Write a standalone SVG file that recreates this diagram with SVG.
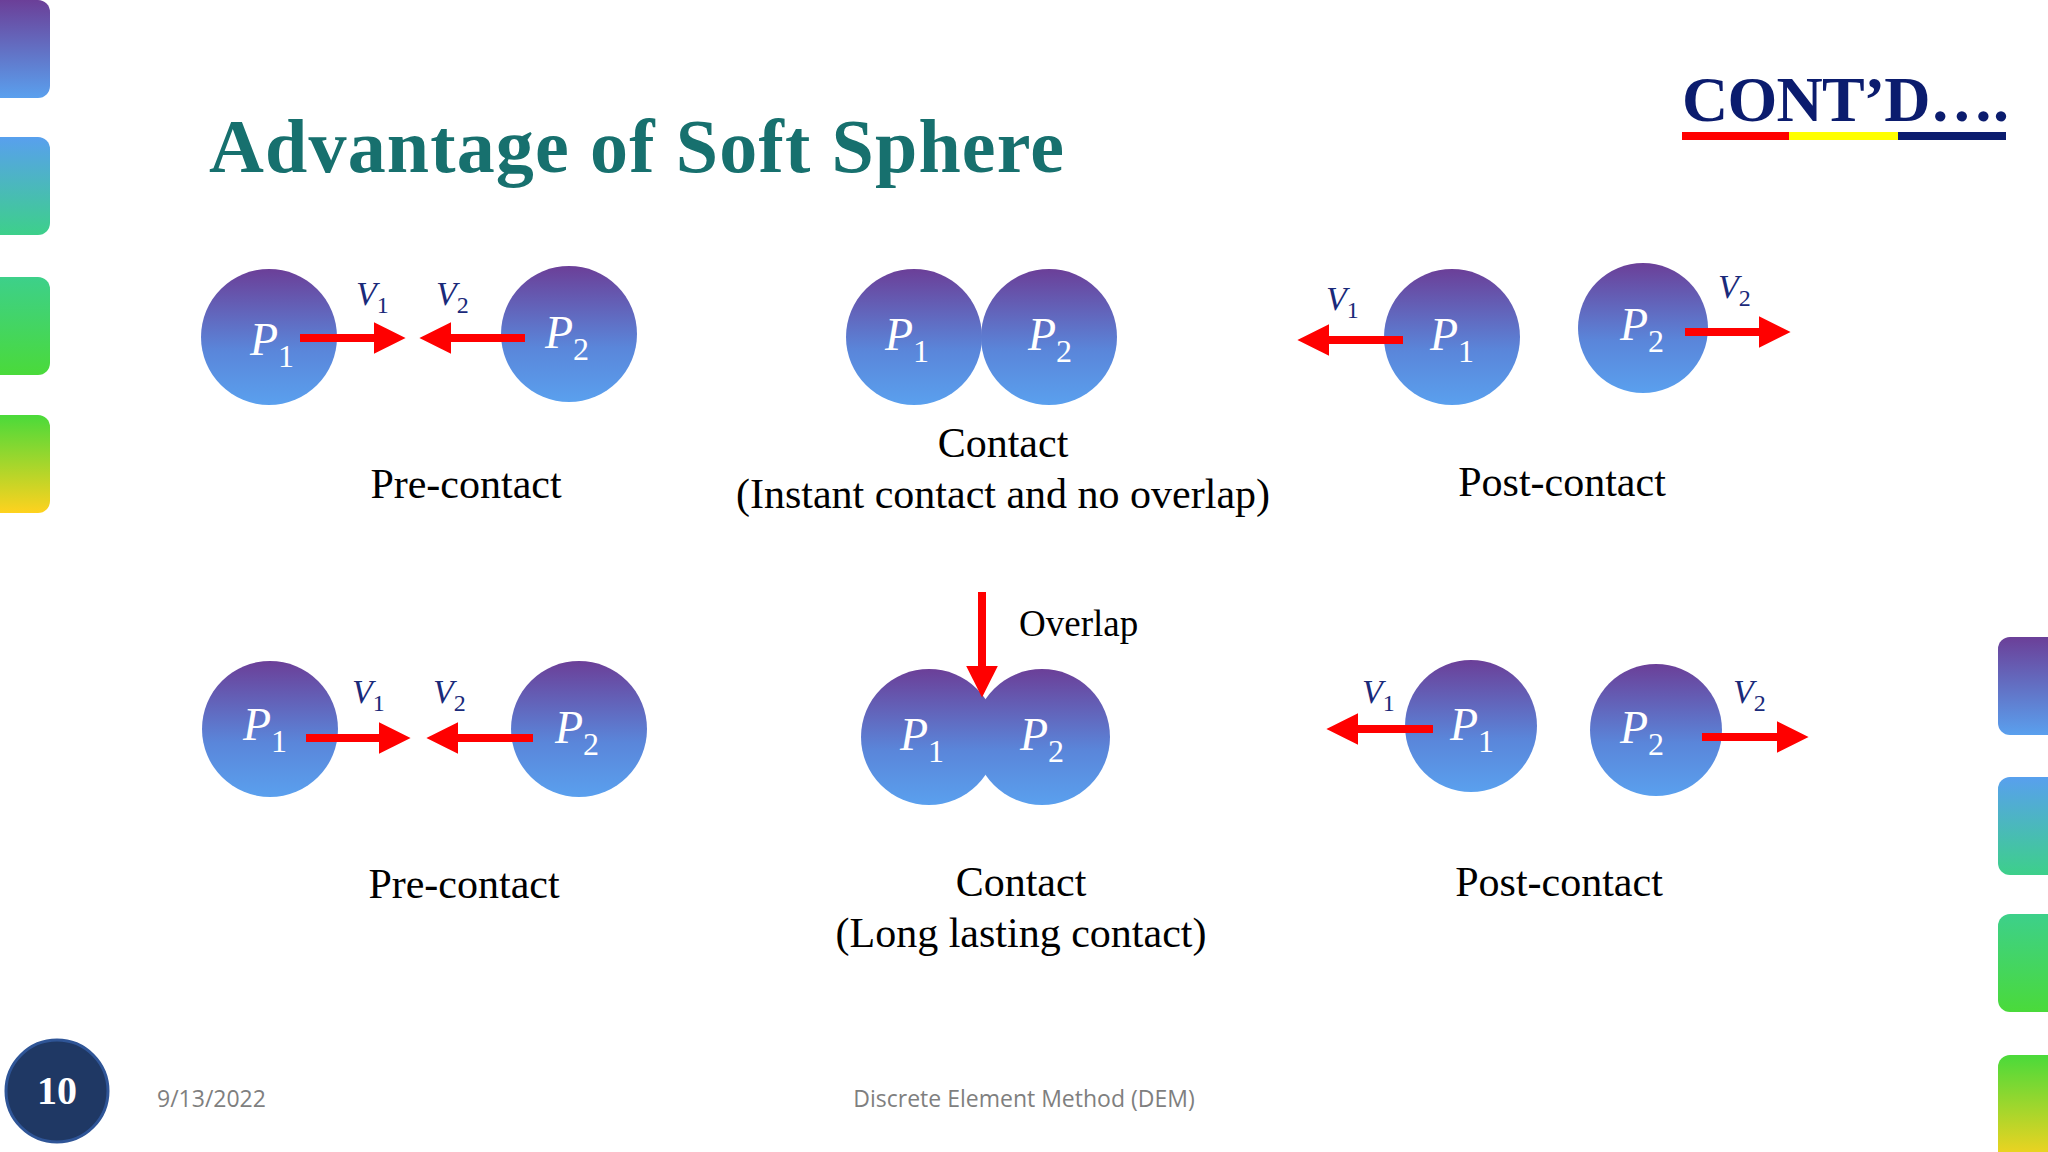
<svg xmlns="http://www.w3.org/2000/svg" width="2048" height="1152" viewBox="0 0 2048 1152">
<defs>
<linearGradient id="ball" x1="0" y1="0" x2="0" y2="1"><stop offset="0" stop-color="#6b3f98"/><stop offset="0.6" stop-color="#5a86da"/><stop offset="1" stop-color="#5aa0ee"/></linearGradient>
<linearGradient id="t1" x1="0" y1="0" x2="0" y2="1"><stop offset="0" stop-color="#6b3f98"/><stop offset="1" stop-color="#5aa0ee"/></linearGradient>
<linearGradient id="t2" x1="0" y1="0" x2="0" y2="1"><stop offset="0" stop-color="#58a0ee"/><stop offset="1" stop-color="#3dd08a"/></linearGradient>
<linearGradient id="t3" x1="0" y1="0" x2="0" y2="1"><stop offset="0" stop-color="#3dd08a"/><stop offset="1" stop-color="#4ada3a"/></linearGradient>
<linearGradient id="t4" x1="0" y1="0" x2="0" y2="1"><stop offset="0" stop-color="#4ada3a"/><stop offset="1" stop-color="#ffd21e"/></linearGradient>
<marker id="ah" viewBox="0 0 10 10" refX="2" refY="5" markerWidth="4" markerHeight="4" orient="auto" markerUnits="strokeWidth"><path d="M0,0 L10,5 L0,10 z" fill="#ff0000"/></marker>
<style>
.ball{fill:url(#ball)}
.p{font-family:"Liberation Serif",serif;font-style:italic;font-size:46px;fill:#fff}
.v{font-family:"Liberation Serif",serif;font-style:italic;font-size:34px;fill:#1a2a7a}
.s{font-style:normal}
.arr{stroke:#ff0000;stroke-width:8;fill:none;marker-end:url(#ah)}
.lbl{font-family:"Liberation Serif",serif;font-size:42px;fill:#000;text-anchor:middle}
.foot{font-family:"Open Sans",sans-serif;font-size:23px;fill:#7f7f7f}
</style>
</defs>
<rect x="-20" y="0" width="70" height="98" rx="12" fill="url(#t1)"/>
<rect x="-20" y="137" width="70" height="98" rx="12" fill="url(#t2)"/>
<rect x="-20" y="277" width="70" height="98" rx="12" fill="url(#t3)"/>
<rect x="-20" y="415" width="70" height="98" rx="12" fill="url(#t4)"/>
<rect x="1998" y="637" width="80" height="98" rx="12" fill="url(#t1)"/>
<rect x="1998" y="777" width="80" height="98" rx="12" fill="url(#t2)"/>
<rect x="1998" y="914" width="80" height="98" rx="12" fill="url(#t3)"/>
<rect x="1998" y="1055" width="80" height="110" rx="12" fill="url(#t4)"/>
<text x="209" y="172" font-family="Liberation Serif,serif" font-weight="bold" font-size="76" fill="#17706e" textLength="855">Advantage of Soft Sphere</text>
<text x="1682" y="121" font-family="Liberation Serif,serif" font-weight="bold" font-size="64" fill="#0b1c6e" textLength="327">CONT’D….</text>
<rect x="1682" y="132" width="107" height="8" fill="#ff0000"/>
<rect x="1789" y="132" width="109" height="8" fill="#ffff00"/>
<rect x="1898" y="132" width="108" height="8" fill="#0b1c6e"/>
<g id="r1pre">
<circle class="ball" cx="269" cy="337" r="68"/><circle class="ball" cx="569" cy="334" r="68"/>
<text class="p" x="250" y="355">P<tspan class="s" font-size="32" dy="12">1</tspan></text>
<text class="p" x="545" y="348">P<tspan class="s" font-size="32" dy="12">2</tspan></text>
<text class="v" x="356" y="305">V<tspan class="s" font-size="24" dy="8">1</tspan></text>
<text class="v" x="436" y="305">V<tspan class="s" font-size="24" dy="8">2</tspan></text>
<text class="lbl" x="466" y="498">Pre-contact</text>
</g>
<g id="r1con">
<circle class="ball" cx="914" cy="337" r="68"/><circle class="ball" cx="1049" cy="337" r="68"/>
<text class="p" x="885" y="350">P<tspan class="s" font-size="32" dy="12">1</tspan></text>
<text class="p" x="1028" y="350">P<tspan class="s" font-size="32" dy="12">2</tspan></text>
<text class="lbl" x="1003" y="457">Contact</text>
<text class="lbl" x="1003" y="508">(Instant contact and no overlap)</text>
</g>
<g id="r1post">
<circle class="ball" cx="1452" cy="337" r="68"/><circle class="ball" cx="1643" cy="328" r="65"/>
<text class="p" x="1430" y="350">P<tspan class="s" font-size="32" dy="12">1</tspan></text>
<text class="p" x="1620" y="340">P<tspan class="s" font-size="32" dy="12">2</tspan></text>
<text class="v" x="1326" y="310">V<tspan class="s" font-size="24" dy="8">1</tspan></text>
<text class="v" x="1718" y="298">V<tspan class="s" font-size="24" dy="8">2</tspan></text>
<text class="lbl" x="1562" y="496">Post-contact</text>
</g>
<g id="r2pre">
<circle class="ball" cx="270" cy="729" r="68"/><circle class="ball" cx="579" cy="729" r="68"/>
<text class="p" x="243" y="740">P<tspan class="s" font-size="32" dy="12">1</tspan></text>
<text class="p" x="555" y="743">P<tspan class="s" font-size="32" dy="12">2</tspan></text>
<text class="v" x="352" y="703">V<tspan class="s" font-size="24" dy="8">1</tspan></text>
<text class="v" x="433" y="703">V<tspan class="s" font-size="24" dy="8">2</tspan></text>
<text class="lbl" x="464" y="898">Pre-contact</text>
</g>
<g id="r2con">
<circle class="ball" cx="929" cy="737" r="68"/><circle class="ball" cx="1042" cy="737" r="68"/>
<text class="p" x="900" y="750">P<tspan class="s" font-size="32" dy="12">1</tspan></text>
<text class="p" x="1020" y="750">P<tspan class="s" font-size="32" dy="12">2</tspan></text>
<text x="1019" y="636" font-family="Liberation Serif,serif" font-size="37">Overlap</text>
<text class="lbl" x="1021" y="896">Contact</text>
<text class="lbl" x="1021" y="947">(Long lasting contact)</text>
</g>
<g id="r2post">
<circle class="ball" cx="1471" cy="726" r="66"/><circle class="ball" cx="1656" cy="730" r="66"/>
<text class="p" x="1450" y="740">P<tspan class="s" font-size="32" dy="12">1</tspan></text>
<text class="p" x="1620" y="743">P<tspan class="s" font-size="32" dy="12">2</tspan></text>
<text class="v" x="1362" y="703">V<tspan class="s" font-size="24" dy="8">1</tspan></text>
<text class="v" x="1733" y="703">V<tspan class="s" font-size="24" dy="8">2</tspan></text>
<text class="lbl" x="1559" y="896">Post-contact</text>
</g>
<g id="connectors">
<line class="arr" x1="300" y1="338" x2="380" y2="338"/>
<line class="arr" x1="525" y1="338" x2="445" y2="338"/>
<line class="arr" x1="1403" y1="340" x2="1323" y2="340"/>
<line class="arr" x1="1685" y1="332" x2="1765" y2="332"/>
<line class="arr" x1="306" y1="738" x2="385" y2="738"/>
<line class="arr" x1="533" y1="738" x2="452" y2="738"/>
<line class="arr" x1="982" y1="592" x2="982" y2="672"/>
<line class="arr" x1="1433" y1="729" x2="1352" y2="729"/>
<line class="arr" x1="1702" y1="737" x2="1783" y2="737"/>
</g>
<circle cx="57" cy="1091" r="51" fill="#1f3864" stroke="#2f5597" stroke-width="3"/>
<text x="57" y="1104" font-family="Liberation Serif,serif" font-weight="bold" font-size="40" fill="#fff" text-anchor="middle">10</text>
<text class="foot" x="157" y="1107">9/13/2022</text>
<text class="foot" x="1024" y="1107" text-anchor="middle">Discrete Element Method (DEM)</text>
</svg>
